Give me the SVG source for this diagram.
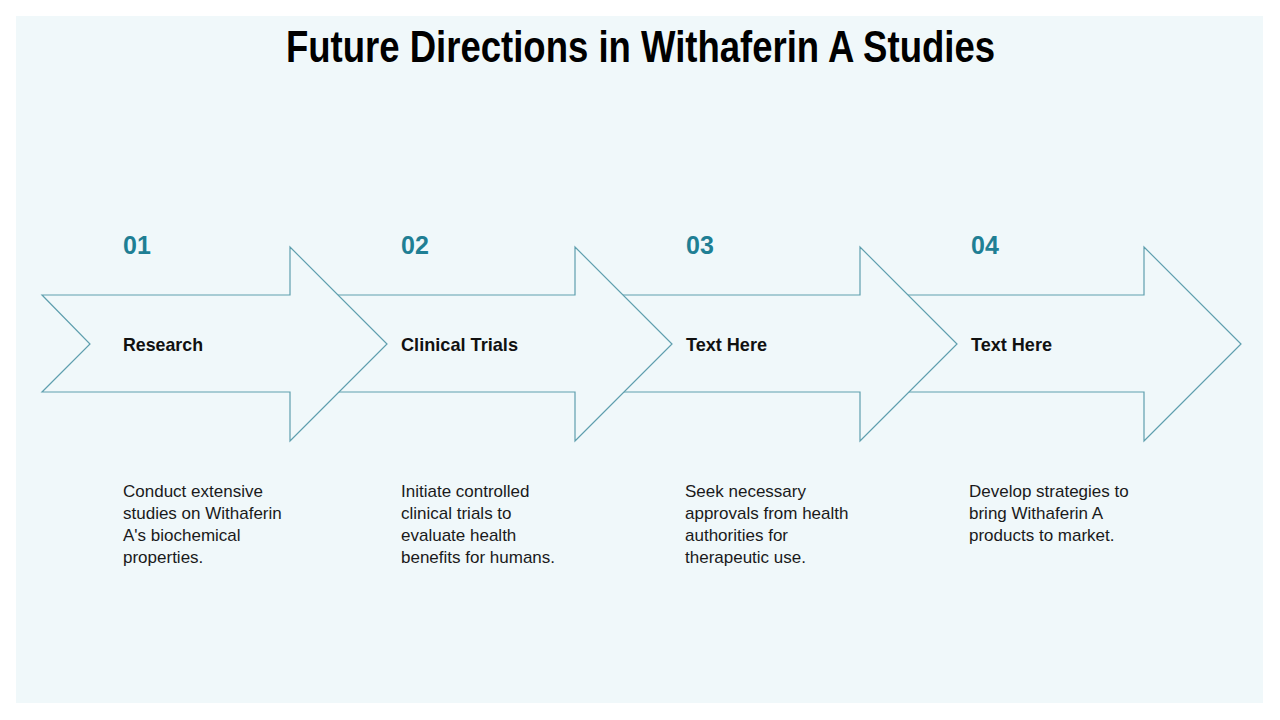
<svg xmlns="http://www.w3.org/2000/svg" width="1280" height="720" viewBox="0 0 1280 720">
<style>
.arrow{fill:#f0f8fa;stroke:#5f9fae;stroke-width:1.2;}
.num{font-family:"Liberation Sans Narrow","Liberation Sans",Arial,sans-serif;font-weight:bold;font-size:25px;fill:#1f7f94;}
.lbl{font-family:"Liberation Sans Narrow","Liberation Sans",Arial,sans-serif;font-weight:bold;font-size:19px;fill:#111;}
.desc{font-family:"Liberation Sans Narrow","Liberation Sans",Arial,sans-serif;font-size:17px;fill:#1a1a1a;}
.title{font-family:"Liberation Sans Narrow","Liberation Sans",Arial,sans-serif;font-weight:bold;font-size:44px;fill:#000;}
</style>
<rect x="0" y="0" width="1280" height="720" fill="#ffffff"/>
<rect x="16" y="16" width="1247" height="687" fill="#f0f8fa"/>
<text class="title" x="286" y="62" textLength="709" lengthAdjust="spacingAndGlyphs">Future Directions in Withaferin A Studies</text>
<defs>
<polygon id="arr" points="0,0 248,0 248,-48 345,49 248,146 248,97 0,97 48,49"/>
</defs>
<g id="connectors"></g>
<g id="step4">
<use href="#arr" class="arrow" x="896" y="295"/>
<text class="num" x="971" y="254">04</text>
<text class="lbl" x="971" y="351" textLength="81" lengthAdjust="spacingAndGlyphs">Text Here</text>
<text class="desc" x="969" y="497">Develop strategies to</text>
<text class="desc" x="969" y="519">bring Withaferin A</text>
<text class="desc" x="969" y="541">products to market.</text>
</g>
<g id="step3">
<use href="#arr" class="arrow" x="612" y="295"/>
<text class="num" x="686" y="254">03</text>
<text class="lbl" x="686" y="351" textLength="81" lengthAdjust="spacingAndGlyphs">Text Here</text>
<text class="desc" x="685" y="497">Seek necessary</text>
<text class="desc" x="685" y="519">approvals from health</text>
<text class="desc" x="685" y="541">authorities for</text>
<text class="desc" x="685" y="563">therapeutic use.</text>
</g>
<g id="step2">
<use href="#arr" class="arrow" x="327" y="295"/>
<text class="num" x="401" y="254">02</text>
<text class="lbl" x="401" y="351" textLength="117" lengthAdjust="spacingAndGlyphs">Clinical Trials</text>
<text class="desc" x="401" y="497">Initiate controlled</text>
<text class="desc" x="401" y="519">clinical trials to</text>
<text class="desc" x="401" y="541">evaluate health</text>
<text class="desc" x="401" y="563">benefits for humans.</text>
</g>
<g id="step1">
<use href="#arr" class="arrow" x="42" y="295"/>
<text class="num" x="123" y="254">01</text>
<text class="lbl" x="123" y="351" textLength="80" lengthAdjust="spacingAndGlyphs">Research</text>
<text class="desc" x="123" y="497">Conduct extensive</text>
<text class="desc" x="123" y="519">studies on Withaferin</text>
<text class="desc" x="123" y="541">A's biochemical</text>
<text class="desc" x="123" y="563">properties.</text>
</g>
</svg>
